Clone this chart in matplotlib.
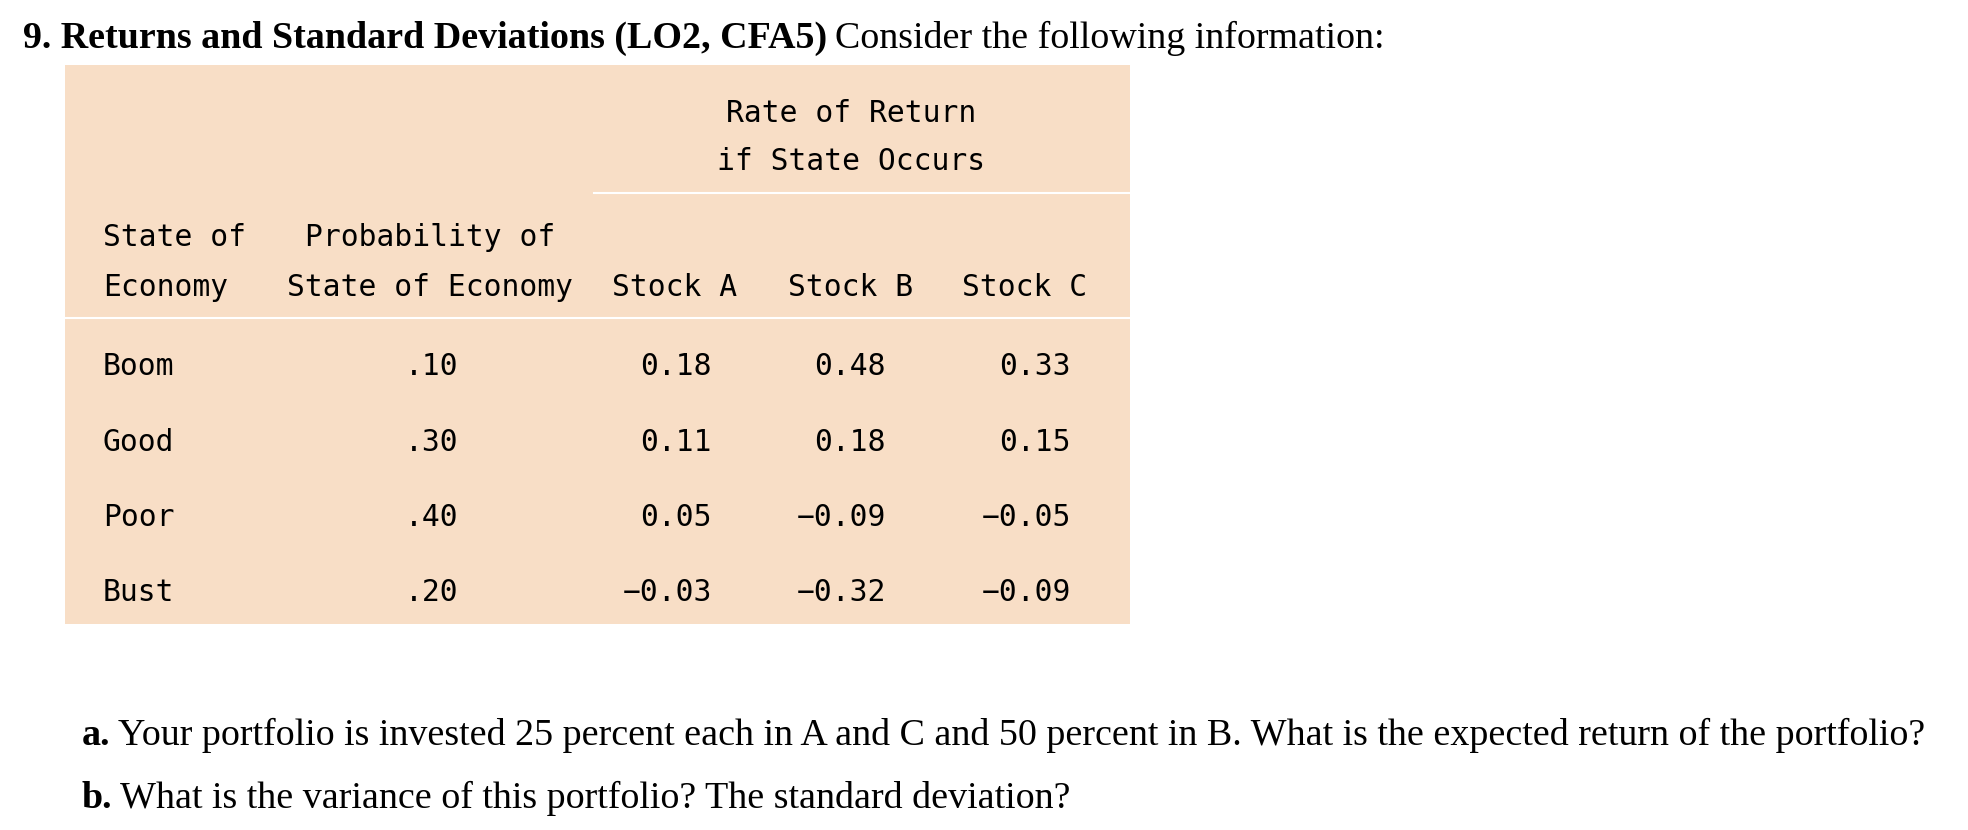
import matplotlib.pyplot as plt
from matplotlib.patches import Rectangle

states = ["Boom", "Good", "Poor", "Bust"]
probs = [".10", ".30", ".40", ".20"]
stock_a = ["0.18", "0.11", "0.05", "\u22120.03"]
stock_b = ["0.48", "0.18", "\u22120.09", "\u22120.32"]
stock_c = ["0.33", "0.15", "\u22120.05", "\u22120.09"]

W, H = 1968, 830
fig = plt.figure(figsize=(W / 100, H / 100), dpi=100)
ax = fig.add_axes([0, 0, 1, 1])
ax.set_xlim(0, W)
ax.set_ylim(H, 0)
ax.axis("off")

serif = "Liberation Serif"
mono = "DejaVu Sans Mono"
fs_s = 27.4
fs_m = 21.3

renderer = fig.canvas.get_renderer()


def bold_then_plain(x, y, bold, plain):
    t = ax.text(x, y, bold, fontfamily=serif, fontsize=fs_s, fontweight="bold", va="center")
    bb = t.get_window_extent(renderer)
    ax.text(bb.x1 + 8, y, plain, fontfamily=serif, fontsize=fs_s, va="center")


# title
bold_then_plain(23, 38, "9. Returns and Standard Deviations (LO2, CFA5)",
                "Consider the following information:")

# table background and rules
ax.add_patch(Rectangle((65, 65), 1065, 559, color="#F8DEC6", lw=0))
ax.plot([594, 1130], [193, 193], color="white", lw=1.5)
ax.plot([65, 1130], [318, 318], color="white", lw=1.5)

ax.text(851, 113, "Rate of Return", fontfamily=mono, fontsize=fs_m, ha="center", va="center")
ax.text(851, 162, "if State Occurs", fontfamily=mono, fontsize=fs_m, ha="center", va="center")
ax.text(103, 237, "State of", fontfamily=mono, fontsize=fs_m, va="center")
ax.text(103, 287, "Economy", fontfamily=mono, fontsize=fs_m, va="center")
ax.text(305, 237, "Probability of", fontfamily=mono, fontsize=fs_m, va="center")
ax.text(287, 287, "State of Economy", fontfamily=mono, fontsize=fs_m, va="center")
for x, lab in zip([675, 851, 1025], ["Stock A", "Stock B", "Stock C"]):
    ax.text(x, 287, lab, fontfamily=mono, fontsize=fs_m, ha="center", va="center")

row_y = [366, 442, 517, 592]
for i, y in enumerate(row_y):
    ax.text(103, y, states[i], fontfamily=mono, fontsize=fs_m, va="center")
    ax.text(458, y, probs[i], fontfamily=mono, fontsize=fs_m, ha="right", va="center")
    ax.text(712, y, stock_a[i], fontfamily=mono, fontsize=fs_m, ha="right", va="center")
    ax.text(886, y, stock_b[i], fontfamily=mono, fontsize=fs_m, ha="right", va="center")
    ax.text(1071, y, stock_c[i], fontfamily=mono, fontsize=fs_m, ha="right", va="center")

bold_then_plain(82, 735, "a.", "Your portfolio is invested 25 percent each in A and C and "
                "50 percent in B. What is the expected return of the portfolio?")
bold_then_plain(82, 798, "b.", "What is the variance of this portfolio? The standard deviation?")

fig.savefig("out.png", dpi=100, facecolor="white")
